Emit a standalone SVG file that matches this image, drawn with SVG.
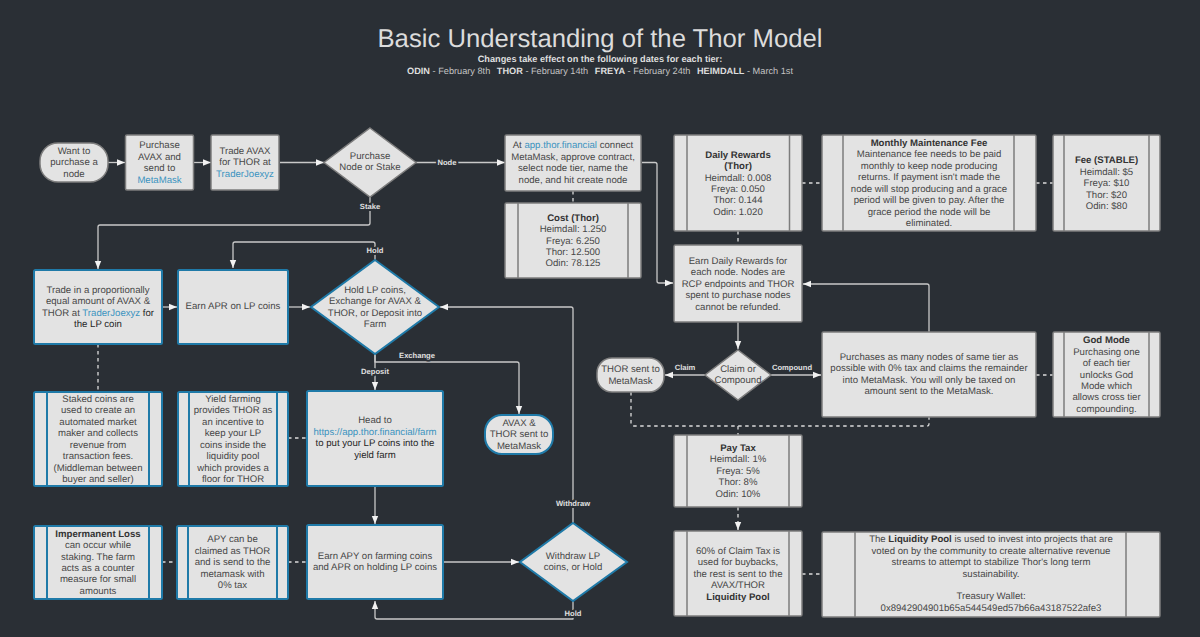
<svg xmlns="http://www.w3.org/2000/svg" width="1200" height="637" viewBox="0 0 1200 637">
<style>
text{font-family:"Liberation Sans",Arial,sans-serif;text-rendering:geometricPrecision}
.n{fill:#e3e3e3;stroke:#7d7d7d;stroke-width:1.5}
.b{fill:#e3e3e3;stroke:#1f7aa8;stroke-width:2}
.il{stroke:#7d7d7d;stroke-width:1.5;fill:none}
.ib{stroke:#1f7aa8;stroke-width:2;fill:none}
.t{font-size:9.6px;fill:#474747;text-anchor:middle}
.k{font-weight:bold;fill:#333}
.a{fill:#3b93c0}
.d{fill:#1f1f1f}
.c{fill:none;stroke:#c9c9c9;stroke-width:1.3;stroke-linejoin:round}
.h{fill:none;stroke:#dcdcdc;stroke-width:1.3;stroke-dasharray:3.5 3.5}
.l{font-size:7.6px;font-weight:bold;fill:#e0e0e0;text-anchor:middle;paint-order:stroke;stroke:#2a2f35;stroke-width:4px;stroke-linejoin:round}
.ttl{font-size:25.7px;fill:#dcdcdc;text-anchor:middle}
.sub{font-size:9.2px;fill:#c4c4c4;text-anchor:middle}
.sub .s{font-weight:bold;fill:#dedede}
</style>
<defs>
<marker id="ar" markerUnits="userSpaceOnUse" markerWidth="9" markerHeight="8" refX="8" refY="4" orient="auto"><path d="M0 .8L8 4L0 7.2z" fill="#f2f2f2"/></marker>
</defs>
<rect width="1200" height="637" fill="#2a2f35"/>
<g id="title">
<text class="ttl" x="600" y="47">Basic Understanding of the Thor Model</text>
<text class="sub" x="600" y="62"><tspan class="s">Changes take effect on the following dates for each tier:</tspan></text>
<text class="sub" x="600" y="74"><tspan class="s">ODIN</tspan> - February 8th   <tspan class="s" dx="4">THOR</tspan> - February 14th   <tspan class="s" dx="4">FREYA</tspan> - February 24th   <tspan class="s" dx="4">HEIMDALL</tspan> - March 1st</text>
</g>
<g id="connectors">
<path class="c" marker-end="url(#ar)" d="M108 162.5H125"/>
<path class="c" marker-end="url(#ar)" d="M193.500 162.500H211"/>
<path class="c" marker-end="url(#ar)" d="M280 162.500H324"/>
<path class="c" marker-end="url(#ar)" d="M416 162.500H505"/>
<path class="c" marker-end="url(#ar)" d="M370 197V223Q370 225 368 225H100Q98 225 98 227V269"/>
<path class="c" marker-end="url(#ar)" d="M375 260V244Q375 242 373 242H235Q233 242 233 244V268"/>
<path class="c" marker-end="url(#ar)" d="M162 307H177"/>
<path class="c" marker-end="url(#ar)" d="M289 307H310"/>
<path class="c" marker-end="url(#ar)" d="M573 523V309Q573 307 571 307H440"/>
<path class="c" marker-end="url(#ar)" d="M375 354V362H517Q519 362 519 364V414"/>
<path class="c" marker-end="url(#ar)" d="M375 354V390"/>
<path class="c" marker-end="url(#ar)" d="M375 486V524"/>
<path class="c" marker-end="url(#ar)" d="M443 562H519"/>
<path class="c" marker-end="url(#ar)" d="M573 601V619H377Q375 619 375 617V601"/>
<path class="c" marker-end="url(#ar)" d="M642 162.500H655Q657 162.500 657 164.500V281Q657 283 659 283H673"/>
<path class="c" marker-end="url(#ar)" d="M929 332V286Q929 284 927 284H803"/>
<path class="c" marker-end="url(#ar)" d="M738 322V349"/>
<path class="c" marker-end="url(#ar)" d="M705 375H665"/>
<path class="c" marker-end="url(#ar)" d="M771 375H821"/>
<path class="h" d="M631 392V424Q631 426 633 426H927Q929 426 929 424V417"/>
<path class="h" d="M738 426V435"/>
<path class="h" marker-end="url(#ar)" d="M738 507V530"/>
<path class="h" d="M802 574H822"/>
<path class="h" d="M573 191V203"/>
<path class="h" d="M738 231V245"/>
<path class="h" d="M802 183H822"/>
<path class="h" d="M1036 183H1053"/>
<path class="h" d="M1036 375H1053"/>
<path class="h" d="M98 344V392"/>
<path class="h" d="M288 438H307"/>
<path class="h" d="M162 562H177"/>
<path class="h" d="M288 562H307"/>
<text class="l" x="447" y="165">Node</text>
<text class="l" x="370" y="209">Stake</text>
<text class="l" x="375" y="253">Hold</text>
<text class="l" x="417" y="358">Exchange</text>
<text class="l" x="375" y="374">Deposit</text>
<text class="l" x="573" y="506">Withdraw</text>
<text class="l" x="573" y="616">Hold</text>
<text class="l" x="685" y="370">Claim</text>
<text class="l" x="792" y="370">Compound</text>
</g>
<g id="start"><rect class="n" x="40" y="143" width="68" height="39" rx="18"/>
<text class="t" x="74" y="154">Want to<tspan x="74" dy="11.43">purchase a</tspan><tspan x="74" dy="11.43">node</tspan></text></g>
<g id="purchase-avax"><rect class="n" x="125.500" y="135" width="68" height="55" rx="1.500"/>
<text class="t" x="159.500" y="148.300">Purchase<tspan x="159.500" dy="11.43">AVAX and</tspan><tspan x="159.500" dy="11.43">send to</tspan><tspan class="a" x="159.500" dy="11.43">MetaMask</tspan></text></g>
<g id="trade-avax"><rect class="n" x="211" y="135" width="68" height="55" rx="1.500"/>
<text class="t" x="245" y="154">Trade AVAX<tspan x="245" dy="11.43">for THOR at</tspan><tspan class="a" x="245" dy="11.43">TraderJoexyz</tspan></text></g>
<g id="purchase-or-stake"><path class="n" d="M370 128L416 162.500L370 197L324 162.500z"/>
<text class="t" x="370" y="158.700">Purchase<tspan x="370" dy="11.43">Node or Stake</tspan></text></g>
<g id="trade-lp"><rect class="b" x="34" y="270" width="128" height="74" rx="1.500"/>
<text class="t" x="98" y="293">Trade in a proportionally<tspan x="98" dy="11.43">equal  amount of AVAX &amp;</tspan><tspan x="98" dy="11.43">THOR at <tspan class="a">TraderJoexyz</tspan> <tspan class="d">for</tspan></tspan><tspan class="d" x="98" dy="11.43">the LP coin</tspan></text></g>
<g id="earn-apr"><rect class="b" x="178" y="270" width="110" height="74" rx="1.500"/>
<text class="t" x="233" y="309">Earn APR on LP coins</text></g>
<g id="hold-exchange-deposit"><path class="b" d="M375 260L439 307L375 354L311 307z"/>
<text class="t" x="375" y="292.700">Hold LP coins,<tspan x="375" dy="11.43">Exchange for AVAX &amp;</tspan><tspan x="375" dy="11.43">THOR, or Deposit into</tspan><tspan x="375" dy="11.43">Farm</tspan></text></g>
<g id="connect-metamask"><rect class="n" x="505" y="135" width="136" height="56" rx="1.500"/>
<text class="t" x="573" y="148.300">At <tspan class="a">app.thor.financial</tspan> connect<tspan x="573" dy="11.43">MetaMask, approve contract,</tspan><tspan x="573" dy="11.43">select node tier, name the</tspan><tspan x="573" dy="11.43">node, and hit create node</tspan></text></g>
<g id="cost"><rect class="n" x="505" y="203" width="136" height="75" rx="1.500"/><path class="il" d="M518 203V278M628 203V278"/>
<text class="t" x="573" y="220.700"><tspan class="k">Cost (Thor)</tspan><tspan x="573" dy="11.43">Heimdall: 1.250</tspan><tspan x="573" dy="11.43">Freya: 6.250</tspan><tspan x="573" dy="11.43">Thor: 12.500</tspan><tspan x="573" dy="11.43">Odin: 78.125</tspan></text></g>
<g id="daily-rewards"><rect class="n" x="674" y="135" width="128" height="96" rx="1.500"/><path class="il" d="M687 135V231M789.500 135V231"/>
<text class="t" x="738" y="157.700"><tspan class="k">Daily Rewards</tspan><tspan class="k" x="738" dy="11.43">(Thor)</tspan><tspan x="738" dy="11.43">Heimdall: 0.008</tspan><tspan x="738" dy="11.43">Freya: 0.050</tspan><tspan x="738" dy="11.43">Thor: 0.144</tspan><tspan x="738" dy="11.43">Odin: 1.020</tspan></text></g>
<g id="earn-daily"><rect class="n" x="674" y="245" width="128" height="77" rx="1.500"/>
<text class="t" x="738" y="264">Earn Daily Rewards for<tspan x="738" dy="11.43">each node. Nodes are</tspan><tspan x="738" dy="11.43">RCP endpoints and THOR</tspan><tspan x="738" dy="11.43">spent to purchase nodes</tspan><tspan x="738" dy="11.43">cannot be refunded.</tspan></text></g>
<g id="maintenance"><rect class="n" x="822" y="135" width="214" height="96" rx="1.500"/><path class="il" d="M843 135V231M1014 135V231"/>
<text class="t" x="929" y="146"><tspan class="k">Monthly Maintenance Fee</tspan><tspan x="929" dy="11.43">Maintenance fee needs to be paid</tspan><tspan x="929" dy="11.43">monthly to keep node producing</tspan><tspan x="929" dy="11.43">returns. If payment isn't made the</tspan><tspan x="929" dy="11.43">node will stop producing and a grace</tspan><tspan x="929" dy="11.43">period will be given to pay. After the</tspan><tspan x="929" dy="11.43">grace period the node will be</tspan><tspan x="929" dy="11.43">eliminated.</tspan></text></g>
<g id="fee"><rect class="n" x="1053" y="135" width="107" height="96" rx="1.500"/><path class="il" d="M1064 135V231M1149 135V231"/>
<text class="t" x="1106.500" y="163.300"><tspan class="k">Fee (STABLE)</tspan><tspan x="1106.500" dy="11.43">Heimdall: $5</tspan><tspan x="1106.500" dy="11.43">Freya: $10</tspan><tspan x="1106.500" dy="11.43">Thor: $20</tspan><tspan x="1106.500" dy="11.43">Odin: $80</tspan></text></g>
<g id="compound"><rect class="n" x="822" y="332" width="214" height="85" rx="1.500"/>
<text class="t" x="929" y="359.700">Purchases as many nodes of same tier as<tspan x="929" dy="11.43">possible with 0% tax and claims the remainder</tspan><tspan x="929" dy="11.43">into MetaMask. You will only be taxed on</tspan><tspan x="929" dy="11.43">amount sent to the MetaMask.</tspan></text></g>
<g id="god-mode"><rect class="n" x="1053" y="332" width="107" height="85" rx="1.500"/><path class="il" d="M1064 332V417M1149 332V417"/>
<text class="t" x="1106.500" y="343.300"><tspan class="k">God Mode</tspan><tspan x="1106.500" dy="11.43">Purchasing one</tspan><tspan x="1106.500" dy="11.43">of each tier</tspan><tspan x="1106.500" dy="11.43">unlocks God</tspan><tspan x="1106.500" dy="11.43">Mode which</tspan><tspan x="1106.500" dy="11.43">allows cross tier</tspan><tspan x="1106.500" dy="11.43">compounding.</tspan></text></g>
<g id="claim-or-compound"><path class="n" d="M738 350L771 375L738 400L705 375z"/>
<text class="t" x="738" y="371.700">Claim or<tspan x="738" dy="11.43">Compound</tspan></text></g>
<g id="thor-sent"><rect class="n" x="597" y="358" width="67" height="34" rx="15"/>
<text class="t" x="630.500" y="372.300">THOR sent to<tspan x="630.500" dy="11.43">MetaMask</tspan></text></g>
<g id="pay-tax"><rect class="n" x="674" y="435" width="128" height="72" rx="1.500"/><path class="il" d="M687 435V507M789 435V507"/>
<text class="t" x="738" y="451"><tspan class="k">Pay Tax</tspan><tspan x="738" dy="11.43">Heimdall: 1%</tspan><tspan x="738" dy="11.43">Freya: 5%</tspan><tspan x="738" dy="11.43">Thor: 8%</tspan><tspan x="738" dy="11.43">Odin: 10%</tspan></text></g>
<g id="claim-tax"><rect class="n" x="674" y="531" width="128" height="85" rx="1.500"/><path class="il" d="M687 531V616M789 531V616"/>
<text class="t" x="738" y="554">60% of Claim Tax is<tspan x="738" dy="11.43">used for buybacks,</tspan><tspan x="738" dy="11.43">the rest is sent to the</tspan><tspan x="738" dy="11.43">AVAX/THOR</tspan><tspan class="k" x="738" dy="11.43">Liquidity Pool</tspan></text></g>
<g id="liquidity-pool"><rect class="n" x="822" y="532" width="338" height="85" rx="1.500"/><path class="il" d="M855 532V617M1126 532V617"/>
<text class="t" x="991" y="542.300">The <tspan class="k">Liquidity Pool</tspan> is used to invest into projects that are<tspan x="991" dy="11.43">voted on by the community to create alternative revenue</tspan><tspan x="991" dy="11.43">streams to attempt to stabilize Thor's long term</tspan><tspan x="991" dy="11.43">sustainability.</tspan><tspan x="991" dy="22.86">Treasury Wallet:</tspan><tspan x="991" dy="11.43">0x8942904901b65a544549ed57b66a43187522afe3</tspan></text></g>
<g id="staked-coins"><rect class="b" x="34" y="392" width="128" height="94" rx="1.500"/><path class="ib" d="M47 392V486M149 392V486"/>
<text class="t" x="98" y="402">Staked coins are<tspan x="98" dy="11.43">used to create an</tspan><tspan x="98" dy="11.43">automated market</tspan><tspan x="98" dy="11.43">maker and collects</tspan><tspan x="98" dy="11.43">revenue from</tspan><tspan x="98" dy="11.43">transaction fees.</tspan><tspan x="98" dy="11.43">(Middleman between</tspan><tspan x="98" dy="11.43">buyer and seller)</tspan></text></g>
<g id="yield-farming"><rect class="b" x="178" y="392" width="110" height="94" rx="1.500"/><path class="ib" d="M189 392V486M277 392V486"/>
<text class="t" x="233" y="402">Yield farming<tspan x="233" dy="11.43">provides THOR as</tspan><tspan x="233" dy="11.43">an incentive to</tspan><tspan x="233" dy="11.43">keep your LP</tspan><tspan x="233" dy="11.43">coins inside the</tspan><tspan x="233" dy="11.43">liquidity pool</tspan><tspan x="233" dy="11.43">which provides a</tspan><tspan x="233" dy="11.43">floor for THOR</tspan></text></g>
<g id="impermanent-loss"><rect class="b" x="34" y="526" width="128" height="73" rx="1.500"/><path class="ib" d="M47 526V599M149 526V599"/>
<text class="t" x="98" y="536.700"><tspan class="k">Impermanent Loss</tspan><tspan x="98" dy="11.43">can occur while</tspan><tspan x="98" dy="11.43">staking. The farm</tspan><tspan x="98" dy="11.43">acts as a counter</tspan><tspan x="98" dy="11.43">measure for small</tspan><tspan x="98" dy="11.43">amounts</tspan></text></g>
<g id="apy-claimed"><rect class="b" x="177" y="526" width="111" height="73" rx="1.500"/><path class="ib" d="M188 526V599M277 526V599"/>
<text class="t" x="232.500" y="542.300">APY can be<tspan x="232.500" dy="11.43">claimed as THOR</tspan><tspan x="232.500" dy="11.43">and is send to the</tspan><tspan x="232.500" dy="11.43">metamask with</tspan><tspan x="232.500" dy="11.43">0% tax</tspan></text></g>
<g id="head-to-farm"><rect class="b" x="307" y="391" width="136" height="95" rx="1.500"/>
<text class="t" x="375" y="423.300">Head to<tspan class="a" x="375" dy="11.43">https://app.thor.financial/farm</tspan><tspan class="d" x="375" dy="11.43">to put your LP coins into the</tspan><tspan class="d" x="375" dy="11.43">yield farm</tspan></text></g>
<g id="earn-apy"><rect class="b" x="307" y="525" width="136" height="74" rx="1.500"/>
<text class="t" x="375" y="558.700">Earn APY on farming coins<tspan x="375" dy="11.43">and APR on holding LP coins</tspan></text></g>
<g id="withdraw-or-hold"><path class="b" d="M573 523L627 562L573 601L520 562z"/>
<text class="t" x="573" y="559">Withdraw LP<tspan x="573" dy="11.43">coins, or Hold</tspan></text></g>
<g id="avax-sent"><rect class="b" x="485" y="415" width="68" height="39" rx="17"/>
<text class="t" x="519" y="425.700">AVAX &amp;<tspan x="519" dy="11.43">THOR sent to</tspan><tspan x="519" dy="11.43">MetaMask</tspan></text></g>
</svg>
